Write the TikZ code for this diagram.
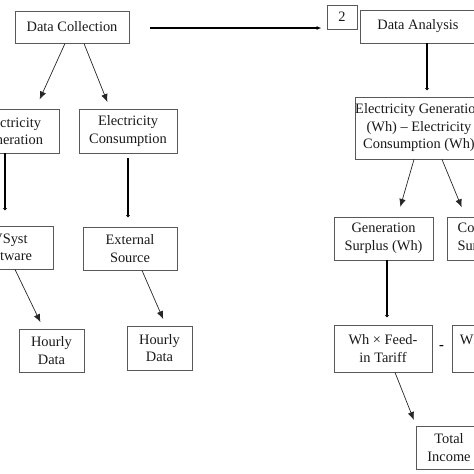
\documentclass[tikz,border=0pt]{standalone}
\usepackage{fontspec}
\setmainfont{Liberation Serif}
\usetikzlibrary{arrows.meta}

\begin{document}
\begin{tikzpicture}[
                x=1pt, y=-1pt,
                caixa/.style={shape=rectangle, draw=black!65, line width=0.9pt, inner sep=0pt, align=center, text=black!90, font=\fontsize{14.4}{17.5}\selectfont},
                seta/.style={draw=black!85, line width=0.7pt, -{Latex[length=8pt,width=6.5pt]}},
                grossa/.style={draw=black, line width=2.4pt, -{Latex[length=2.5pt,width=4.5pt]}},
                media/.style={draw=black, line width=1.4pt, -{Latex[length=5pt,width=4pt]}},
            ]
            \useasboundingbox (0,0) rectangle (474,474);
            \clip (0,0) rectangle (474,474);
            % topo
            \node[caixa, minimum width=114pt, minimum height=32pt] (coleta) at (72,27) {Data Collection};
            \node[caixa, minimum width=30pt, minimum height=24pt] (num) at (342,17) {2};
            \node[caixa, minimum width=116pt, minimum height=33pt] (analise) at (418,26.5) {Data Analysis};
            % lado esquerdo
            \node[caixa, minimum width=96pt, minimum height=44pt] (ger) at (11,131) {Electricity\\Generation};
            \node[caixa, minimum width=98pt, minimum height=44pt] (cons) at (128,131) {Electricity\\Consumption};
            \node[caixa, minimum width=94pt, minimum height=43pt] (pvs) at (6,247.5) {PVSyst\\Software};
            \node[caixa, minimum width=94pt, minimum height=43pt] (ext) at (130,248.5) {External\\Source};
            \node[caixa, minimum width=65pt, minimum height=43pt] (hora1) at (51.5,350.5) {Hourly\\Data};
            \node[caixa, minimum width=65pt, minimum height=44pt] (hora2) at (159.5,348) {Hourly\\Data};
            % lado direito
            \node[caixa, minimum width=126pt, minimum height=62pt] (dif) at (419,128) {Electricity Generation\\(Wh) -- Electricity\\Consumption (Wh)};
            \node[caixa, minimum width=99pt, minimum height=43pt] (sger) at (383.5,238.5) {Generation\\Surplus (Wh)};
            \node[caixa, minimum width=99pt, minimum height=43pt] (scons) at (496.5,238.5) {Consumption\\Surplus (Wh)};
            \node[caixa, minimum width=98pt, minimum height=47pt] (tarifa) at (383,348.5) {Wh × Feed-\\in Tariff};
            \node[caixa, minimum width=112pt, minimum height=47pt] (tarifa2) at (508,348.5) {Wh × Electricity\\Tariff};
            \node[inner sep=0pt, font=\fontsize{14.4}{17.5}\selectfont\bfseries] (menos) at (441.5,347) {-};
            \node[caixa, minimum width=65pt, minimum height=43pt] (total) at (449,447.5) {Total\\Income};
            % ligacoes
            \draw[media, shorten <=21pt, shorten >=5pt] (coleta.east |- 0,28) -- (num.west |- 0,28);
            \draw[grossa, shorten >=6pt] ([xshift=9pt]analise.south) -- ([xshift=9pt]analise.south |- dif.north);
            \draw[seta, shorten >=10pt] ([xshift=-7pt]coleta.south) -- ([xshift=24.5pt]ger.north);
            \draw[seta, shorten >=7pt] ([xshift=12pt]coleta.south) -- ([xshift=-18pt]cons.north);
            \draw[grossa, shorten >=15pt] ([xshift=-6pt]ger.south) -- ([xshift=-1pt]pvs.north);
            \draw[grossa, shorten <=5pt, shorten >=9pt] (cons.south) -- (cons.south |- ext.north);
            \draw[seta, shorten >=7pt] ([xshift=9pt]pvs.south) -- ([xshift=-8pt]hora1.north);
            \draw[seta, shorten >=7pt] ([xshift=12pt]ext.south) -- ([xshift=6.5pt]hora2.north);
            \draw[seta, shorten >=10pt] ([xshift=-5pt]dif.south) -- ([xshift=14pt]sger.north);
            \draw[seta, shorten >=10pt] ([xshift=23pt]dif.south) -- ([xshift=-31pt]scons.north);
            \draw[grossa, shorten >=7pt] ([xshift=3.5pt]sger.south) -- ([xshift=3.5pt]sger.south |- tarifa.north);
            \draw[seta, shorten >=6pt] ([xshift=12pt]tarifa.south) -- (total.north west);
        \end{tikzpicture}
\end{document}
